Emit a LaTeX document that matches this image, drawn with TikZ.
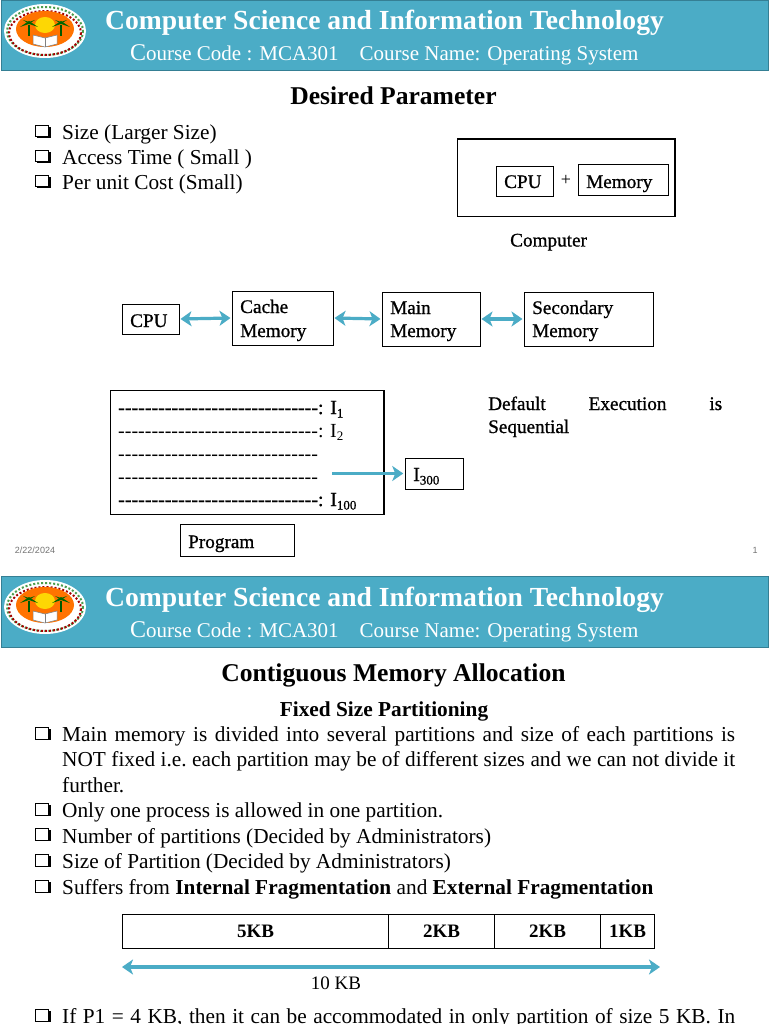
\documentclass[tikz,border=0pt]{standalone}
\usepackage{fontspec}
\setmainfont{Liberation Serif}
\newfontfamily\fakeb[FakeBold=0.9]{Liberation Serif}
\newfontfamily\sansf{Liberation Sans}
\usetikzlibrary{arrows.meta}
\definecolor{teal}{HTML}{4BACC6}
\definecolor{tealdark}{HTML}{357F94}
\newcommand{\fs}[1]{\fontsize{#1}{#1}\selectfont}
\newcommand{\jl}[1]{\makebox[673pt][s]{\frenchspacing #1}}
\newcommand{\dsh}{-{}-{}-{}-{}-{}-{}-{}-{}-{}-{}-{}-{}-{}-{}-{}-{}-{}-{}-{}-{}-{}-{}-{}-{}-{}-{}-{}-{}-{}-{}}
\tikzset{
  x=1pt,y=-1pt,
  body/.style={anchor=base west,inner sep=0pt,font=\fs{21.3}},
  bold20/.style={anchor=base,inner sep=0pt,font=\fs{21.3}\bfseries},
  headline/.style={anchor=base west,inner sep=0pt,text=white,font=\fs{27.6}\bfseries},
  subline/.style={anchor=base west,inner sep=0pt,text=white,font=\fs{21}},
  slidetitle/.style={anchor=base,inner sep=0pt,font=\fs{25.6}\bfseries},
  boxlabel/.style={anchor=base west,inner sep=0pt,font=\fs{19.2}\fakeb},
  dashline/.style={anchor=base west,inner sep=0pt,font=\fs{20}},
  thinbox/.style={draw=black,line width=1pt},
  tealarrow/.style={draw=teal,line width=3.2pt,shorten <=1pt,shorten >=1pt,{Stealth[length=11pt,width=15pt,inset=3pt]}-{Stealth[length=11pt,width=15pt,inset=3pt]}},
  tealone/.style={draw=teal,line width=3.2pt,shorten >=2pt,-{Stealth[length=11pt,width=15pt,inset=3pt]}},
  datelabel/.style={anchor=base,inner sep=0pt,text=black!55,font=\fs{9}\sansf},
  partbox/.style={thinbox,anchor=north west,inner sep=0pt,minimum height=34pt,font=\fs{19}\bfseries},
}
\newcommand{\bul}[2]{%
  \fill[black] (#1+1.8,#2-5.2) rectangle (#1+15.5,#2+6.4);
  \draw[black,line width=1pt,fill=white] (#1,#2-6.4) rectangle (#1+13.4,#2+5);
}
\newcommand{\logo}[1]{%
  \begin{scope}[yshift=-#1pt]
  \fill[white] (45,31) ellipse [x radius=41,y radius=27];
  \draw[green!45!black!70,line width=2pt,dotted] (45,31) ellipse [x radius=38,y radius=24];
  \draw[red!65!black,line width=2pt,dotted] (45,33) ellipse [x radius=36,y radius=22];
  \fill[orange!90!red] (45,29) ellipse [x radius=29,y radius=18];
  \fill[yellow!75!orange] (45,25) ellipse [x radius=10,y radius=8];
  \foreach \cx in {29,61}{
    \draw[green!35!black,line width=1.6pt] (\cx,36) -- (\cx,25);
    \fill[green!40!black] (\cx-9,27) -- (\cx,21) -- (\cx+9,27) -- (\cx,24) -- cycle;
    \fill[green!40!black] (\cx-6,20) -- (\cx,24) -- (\cx+6,20) -- (\cx,22) -- cycle;
  }
  \fill[white,draw=black!50,line width=0.5pt] (33,35) -- (45,38) -- (57,35) -- (57,44) -- (45,47) -- (33,44) -- cycle;
  \draw[black!50,line width=0.5pt] (45,38) -- (45,47);
  \end{scope}
}
\begin{document}
\begin{tikzpicture}
\useasboundingbox (0,0) rectangle (768,1024);
\fill[white] (0,0) rectangle (768,1024);
% ---------- slide 1 header
\draw[fill=teal,draw=tealdark,line width=1pt] (1,0.5) rectangle (768.5,71);
\logo{0}
\node[headline] (h1) at (105,30) {Computer Science and Information Technology};
\node[subline] (s1) at (130,61) {{\fs{24}C}ourse Code : MCA301\hspace{21pt}Course Name: Operating System};
\node[slidetitle] (t1) at (393.5,105) {Desired Parameter};
% bullets
\bul{35}{132}\bul{35}{157}\bul{35}{182}
\node[body] (b1) at (62,139.5) {Size (Larger Size)};
\node[body] (b2) at (62,164.5) {Access Time ( Small )};
\node[body] (b3) at (62,189.5) {Per unit Cost (Small)};
% computer
\draw[thinbox,fill=white] (457,139) rectangle (675,217);
\draw[black,line width=1.4pt] (457,139) -- (675,139) -- (675,217);
\node[thinbox,minimum width=57pt,minimum height=30pt,inner sep=0pt] (cpu0) at (524.5,182) {};
\node[thinbox,minimum width=90pt,minimum height=31pt,inner sep=0pt] (mem0) at (623,180.5) {};
\node[boxlabel] (cpu0t) at (504,188) {CPU};
\node[boxlabel] (mem0t) at (586,188) {Memory};
\node[anchor=base,inner sep=0pt,font=\fs{18}] (plus) at (566,185.5) {+};
\node[boxlabel] (comp) at (510,246.5) {Computer};
% hierarchy
\node[thinbox,minimum width=57pt,minimum height=30pt,inner sep=0pt] (cpu) at (150.5,319) {};
\node[thinbox,minimum width=101pt,minimum height=54pt,inner sep=0pt] (cache) at (282.5,318) {};
\node[thinbox,minimum width=98pt,minimum height=54pt,inner sep=0pt] (main) at (431,319) {};
\node[thinbox,minimum width=129pt,minimum height=54pt,inner sep=0pt] (sec) at (588.5,319) {};
\node[boxlabel] (cput) at (130,327) {CPU};
\node[boxlabel] (ca1) at (240,313) {Cache};
\node[boxlabel] (ca2) at (240,337) {Memory};
\node[boxlabel] (ma1) at (390,314) {Main};
\node[boxlabel] (ma2) at (390,337) {Memory};
\node[boxlabel] (se1) at (532,314) {Secondary};
\node[boxlabel] (se2) at (532,337) {Memory};
\draw[tealarrow] (cpu.east) -- (cache.west);
\draw[tealarrow] (cache.east) -- (main.west);
\draw[tealarrow] (main.east) -- (sec.west);
% program
\node[thinbox,minimum width=274pt,minimum height=124pt,inner sep=0pt] (prog) at (247,452.5) {};
\draw[black,line width=1.4pt] (384,390.5) -- (384,514.5) -- (110,514.5);
\node[dashline,font=\fs{20}\fakeb] (l1) at (118,414) {\dsh: I\raisebox{-3.5pt}{\fs{13}1}};
\node[dashline] (l2) at (118,437) {\dsh: I\raisebox{-3.5pt}{\fs{13}2}};
\node[dashline] (l3) at (118,460) {\dsh};
\node[dashline] (l4) at (118,483) {\dsh};
\node[dashline,font=\fs{20}\fakeb] (l5) at (118,506) {\dsh: I\raisebox{-3.5pt}{\fs{13}100}};
\node[thinbox,minimum width=57.5pt,minimum height=31pt,inner sep=0pt] (i300) at (434.5,473.5) {};
\node[boxlabel,font=\fs{20}\fakeb] (i300t) at (413,481) {I\raisebox{-3.5pt}{\fs{13}300}};
\coordinate (arrstart) at (332,473.5);
\draw[tealone] (arrstart) -- (i300.west);
\node[thinbox,minimum width=114pt,minimum height=32pt,inner sep=0pt] (pb) at (237,540) {};
\node[boxlabel] (pbt) at (188,548) {Program};
\node[boxlabel] (de1) at (488,410) {\makebox[234pt][s]{Default Execution is}};
\node[boxlabel] (de2) at (488,433) {Sequential};
\node[datelabel] (d1) at (35,553) {2/22/2024};
\node[datelabel] (p1) at (755,553) {1};
% ---------- slide 2 header
\draw[fill=teal,draw=tealdark,line width=1pt] (1,576) rectangle (768.5,647);
\logo{576}
\node[headline] (h2) at (105,606) {Computer Science and Information Technology};
\node[subline] (s2) at (130,637) {{\fs{24}C}ourse Code : MCA301\hspace{21pt}Course Name: Operating System};
\node[slidetitle] (t2) at (393.5,681) {Contiguous Memory Allocation};
\node[bold20] (t3) at (384,716) {Fixed Size Partitioning};
\bul{35}{734}\bul{35}{810}\bul{35}{835}\bul{35}{861}\bul{35}{887}
\node[body] (m1) at (62,741) {\jl{Main memory is divided into several partitions and size of each partitions is}};
\node[body] (m2) at (62,766.5) {\jl{NOT fixed i.e. each partition may be of different sizes and we can not divide it}};
\node[body] (m3) at (62,792) {further.};
\node[body] (m4) at (62,817.5) {Only one process is allowed in one partition.};
\node[body] (m5) at (62,843) {Number of partitions (Decided by Administrators)};
\node[body] (m6) at (62,868.5) {Size of Partition (Decided by Administrators)};
\node[body] (m7) at (62,894) {Suffers from \textbf{Internal Fragmentation} and \textbf{External Fragmentation}};
% partitions
\node[partbox,minimum width=266pt] (pa) at (122,914) {5KB};
\node[partbox,minimum width=106pt] (pc) at (388,914) {2KB};
\node[partbox,minimum width=106pt] (pd) at (494,914) {2KB};
\node[partbox,minimum width=54pt] (pe) at (600,914) {1KB};
\coordinate (al) at (121,967);
\coordinate (ar) at (661,967);
\draw[tealarrow] (al) -- (ar);
\node[anchor=base,inner sep=0pt,font=\fs{19}] (kb) at (336,989) {10 KB};
\bul{35}{1016}
\node[body] (m8) at (62,1023) {\jl{If P1 = 4 KB, then it can be accommodated in only partition of size 5 KB. In}};
\end{tikzpicture}
\end{document}
